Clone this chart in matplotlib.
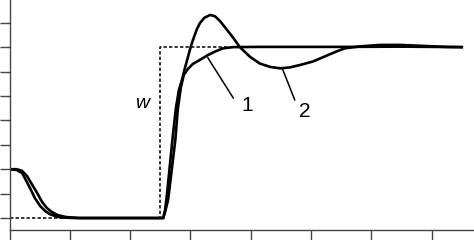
import matplotlib
matplotlib.use("Agg")
import matplotlib.pyplot as plt

plt.rcParams["font.family"] = ["Liberation Sans", "DejaVu Sans"]

# setpoint step w
w_t = [0, 2.5, 2.5, 7.5]
w_y = [0, 0, 7, 7]

# response 1 (well damped)
t1 = [0, 0.12, 0.21, 0.27, 0.34, 0.42, 0.51, 0.59, 0.67, 0.76, 0.87, 1.09,
      2.55, 2.58, 2.63, 2.68, 2.75, 2.79, 2.84, 2.89, 2.96, 3.04, 3.16, 3.28,
      3.41, 3.54, 3.71, 4.15, 4.82, 5.65, 6.48, 7.50]
y1 = [2.0, 1.97, 1.84, 1.56, 1.23, 0.82, 0.49, 0.29, 0.16, 0.08, 0.02, 0.0,
      0.0, 0.25, 0.74, 1.76, 3.20, 4.43, 5.33, 5.86, 6.11, 6.31, 6.48, 6.66,
      6.82, 6.95, 7.0, 7.01, 7.01, 7.01, 7.02, 7.0]

# response 2 (overshoot)
t2 = [0, 0.12, 0.21, 0.29, 0.37, 0.46, 0.54, 0.62, 0.70, 0.80, 0.94, 1.17,
      2.55, 2.58, 2.61, 2.66, 2.71, 2.76, 2.81, 2.86, 2.91, 2.96, 3.01, 3.06,
      3.11, 3.16, 3.23, 3.33, 3.41, 3.49, 3.61, 3.71, 3.82, 3.99, 4.15, 4.32,
      4.49, 4.65, 4.82, 5.03, 5.23, 5.40, 5.56, 5.81, 6.14, 6.48, 6.86, 7.22, 7.50]
y2 = [2.0, 2.0, 1.93, 1.72, 1.39, 1.02, 0.66, 0.41, 0.25, 0.12, 0.04, 0.0,
      0.0, 0.33, 0.94, 2.17, 3.40, 4.51, 5.25, 5.66, 6.15, 6.60, 7.05, 7.42,
      7.75, 7.99, 8.20, 8.32, 8.26, 8.07, 7.70, 7.38, 7.0, 6.60, 6.33, 6.19,
      6.13, 6.17, 6.27, 6.41, 6.62, 6.80, 6.95, 7.03, 7.09, 7.09, 7.05, 7.01, 7.0]

x_ticks = [0, 1, 2, 3, 4, 5, 6, 7]
y_ticks = [0, 1, 2, 3, 4, 5, 6, 7, 8]

fig = plt.figure(figsize=(4.74, 2.4), dpi=100)
ax = fig.add_axes([9.5 / 474, 10 / 240, 1 - 9.5 / 474, 230 / 240])

ax.plot(w_t, w_y, color="black", lw=1.1, ls=(0, (2.2, 1.4)))
ax.plot(t1, y1, color="black", lw=1.9, solid_joinstyle="round")
ax.plot(t2, y2, color="black", lw=1.9, solid_joinstyle="round")

# labels with leader lines
ax.text(2.2, 4.7, "w", fontsize=14, style="italic", ha="center", va="center")
ax.plot([3.71, 3.29], [4.92, 6.56], color="black", lw=1.1)
ax.text(3.94, 4.62, "1", fontsize=15, ha="center", va="center")
ax.plot([4.73, 4.52], [4.84, 6.15], color="black", lw=1.1)
ax.text(4.90, 4.38, "2", fontsize=15, ha="center", va="center")

ax.set_xlim(0, 7.703)
ax.set_ylim(-0.49, 8.93)
ax.set_xticks(x_ticks)
ax.set_yticks(y_ticks)
ax.set_xticklabels([])
ax.set_yticklabels([])
ax.tick_params(direction="out", length=7, width=1.0, color="#444444")
ax.spines["top"].set_visible(False)
ax.spines["right"].set_visible(False)
for s in ["left", "bottom"]:
    ax.spines[s].set_color("#444444")
    ax.spines[s].set_linewidth(1.0)

fig.savefig("out.png", dpi=100)
